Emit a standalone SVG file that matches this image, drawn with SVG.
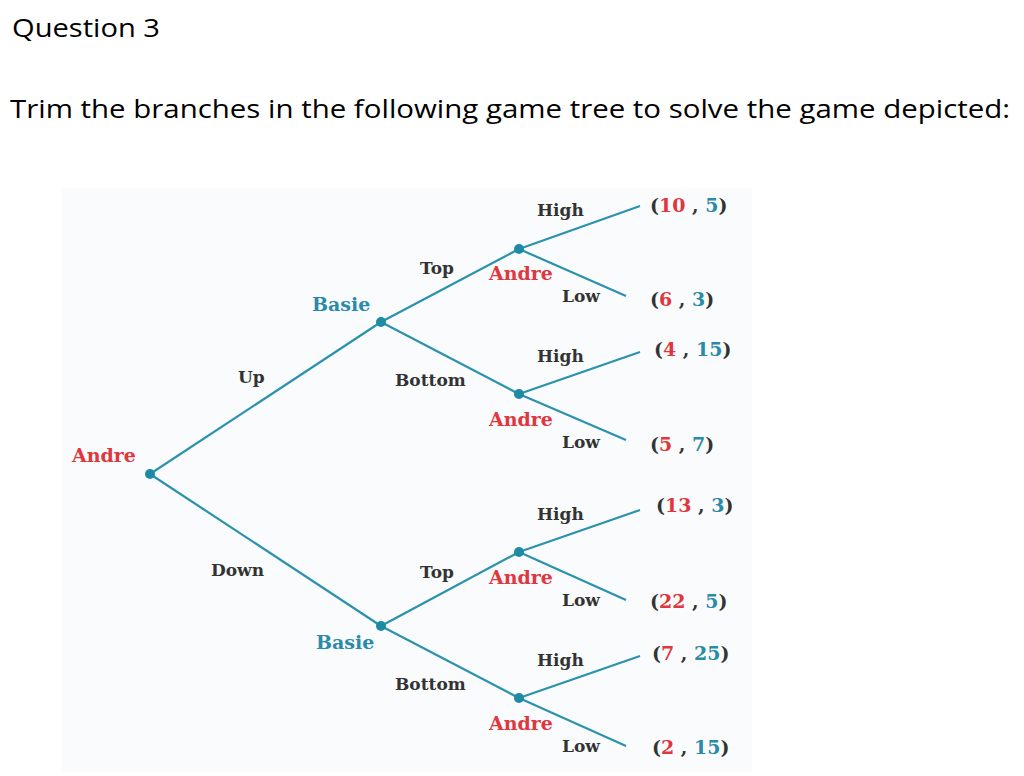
<svg xmlns="http://www.w3.org/2000/svg" width="1024" height="776" viewBox="0 0 1024 776">
<style>
.h{font-family:"Open Sans","Liberation Sans",sans-serif;font-size:26px;fill:#000}
.t{font-family:"DejaVu Serif","Liberation Serif",serif;font-weight:bold;font-size:17px;fill:#333}
.r{fill:#e0363e;font-size:19px}
.b{fill:#2a8aa8;font-size:19px}
.p{font-family:"DejaVu Serif","Liberation Serif",serif;font-weight:bold;font-size:19px;fill:#333}
.e{stroke:#2b92ad;stroke-width:2.2;fill:none}
.n{fill:#1e8aa3}
</style>
<rect width="1024" height="776" fill="#fff"/>
<rect x="62" y="188" width="690" height="584" fill="#f9fbfc"/>
<text class="h" x="12" y="37" textLength="148" lengthAdjust="spacingAndGlyphs">Question 3</text>
<text class="h" x="10" y="118" textLength="1000" lengthAdjust="spacingAndGlyphs">Trim the branches in the following game tree to solve the game depicted:</text>
<g id="connectors">
<path class="e" d="M150,474L381,322M150,474L381,626M381,322L519,249M381,322L519,394M381,626L519,552M381,626L519,698"/>
<path class="e" d="M519,249L640,206M519,249L626,296M519,394L640,352M519,394L626,440M519,552L640,510M519,552L626,600M519,698L640,656M519,698L626,746"/>
</g>
<g id="root"><circle class="n" cx="150" cy="474" r="5"/><text class="t r" x="72" y="462">Andre</text></g>
<g id="basie1"><circle class="n" cx="381" cy="322" r="5"/><text class="t b" x="312" y="311">Basie</text></g>
<g id="basie2"><circle class="n" cx="381" cy="626" r="5"/><text class="t b" x="316" y="649">Basie</text></g>
<g id="labels">
<text class="t" x="238" y="383">Up</text>
<text class="t" x="211" y="576">Down</text>
<text class="t" x="420" y="274">Top</text>
<text class="t" x="395" y="386">Bottom</text>
<text class="t" x="420" y="578">Top</text>
<text class="t" x="395" y="690">Bottom</text>
</g>
<g id="andre1"><circle class="n" cx="519" cy="249" r="5"/><text class="t r" x="489" y="280">Andre</text><text class="t" x="537" y="216">High</text><text class="t" x="562" y="302">Low</text></g>
<g id="andre2"><circle class="n" cx="519" cy="394" r="5"/><text class="t r" x="489" y="426">Andre</text><text class="t" x="537" y="362">High</text><text class="t" x="562" y="448">Low</text></g>
<g id="andre3"><circle class="n" cx="519" cy="552" r="5"/><text class="t r" x="489" y="584">Andre</text><text class="t" x="537" y="520">High</text><text class="t" x="562" y="606">Low</text></g>
<g id="andre4"><circle class="n" cx="519" cy="698" r="5"/><text class="t r" x="489" y="730">Andre</text><text class="t" x="537" y="666">High</text><text class="t" x="562" y="752">Low</text></g>
<g id="payoffs" class="p">
<text x="650" y="212">(<tspan fill="#e0363e">10</tspan> , <tspan fill="#2a8aa8">5</tspan>)</text>
<text x="650" y="306">(<tspan fill="#e0363e">6</tspan> , <tspan fill="#2a8aa8">3</tspan>)</text>
<text x="654" y="356">(<tspan fill="#e0363e">4</tspan> , <tspan fill="#2a8aa8">15</tspan>)</text>
<text x="650" y="451">(<tspan fill="#e0363e">5</tspan> , <tspan fill="#2a8aa8">7</tspan>)</text>
<text x="656" y="512">(<tspan fill="#e0363e">13</tspan> , <tspan fill="#2a8aa8">3</tspan>)</text>
<text x="650" y="608">(<tspan fill="#e0363e">22</tspan> , <tspan fill="#2a8aa8">5</tspan>)</text>
<text x="652" y="660">(<tspan fill="#e0363e">7</tspan> , <tspan fill="#2a8aa8">25</tspan>)</text>
<text x="652" y="754">(<tspan fill="#e0363e">2</tspan> , <tspan fill="#2a8aa8">15</tspan>)</text>
</g>
</svg>
